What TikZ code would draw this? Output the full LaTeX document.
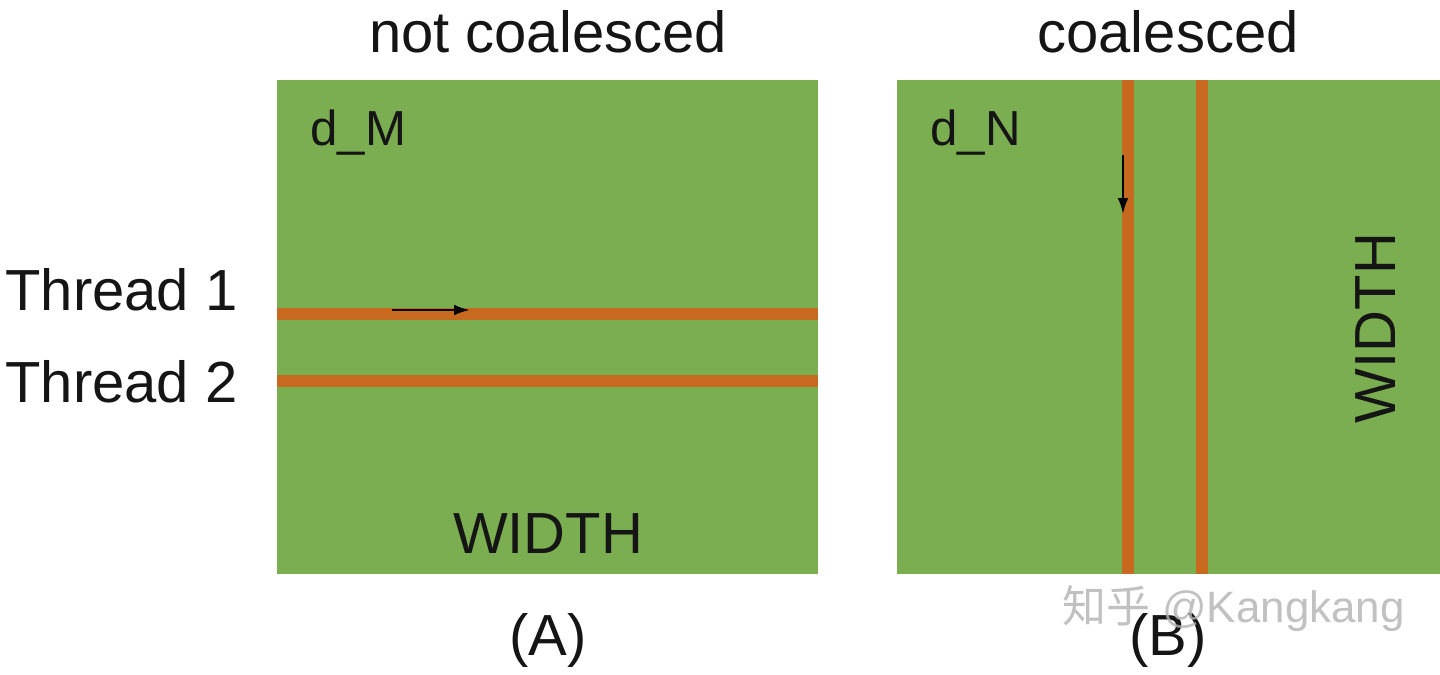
\documentclass[tikz,border=0pt]{standalone}
\usepackage{fontspec}
\usetikzlibrary{arrows.meta}
\setmainfont{Liberation Sans}
\newfontfamily\cjk{Noto Sans CJK SC}
\definecolor{grn}{HTML}{7BAE50}
\definecolor{org}{HTML}{C7691F}
\definecolor{ink}{HTML}{151515}
\begin{document}
\begin{tikzpicture}[x=0.02cm,y=-0.02cm,
  lab/.style={inner sep=0,text=ink,font=\fontsize{33}{36}\selectfont},
  sm/.style={inner sep=0,text=ink,font=\fontsize{28}{30}\selectfont},
  bar/.style={org,line width=12*0.02cm},
  arr/.style={-{Latex[length=9pt,width=6pt]},line width=1.3pt}]
\useasboundingbox (0,0) rectangle (1440,674);
\fill[white] (0,0) rectangle (1440,674);
\fill[grn] (277,80) rectangle (818,574);
\fill[grn] (897,80) rectangle (1440,574);
\coordinate (a1) at (277,314); \coordinate (a2) at (818,314);
\coordinate (a3) at (277,381); \coordinate (a4) at (818,381);
\draw[bar] (a1) -- (a2); \draw[bar] (a3) -- (a4);
\coordinate (b1) at (1128,80); \coordinate (b2) at (1128,574);
\coordinate (b3) at (1202,80); \coordinate (b4) at (1202,574);
\draw[bar] (b1) -- (b2); \draw[bar] (b3) -- (b4);
\coordinate (p1) at (392,310); \coordinate (p2) at (470,310);
\draw[arr] (p1) -- (p2);
\coordinate (q1) at (1123,155); \coordinate (q2) at (1123,214);
\draw[arr] (q1) -- (q2);
\node[lab,anchor=base] (t1) at (548,52) {not coalesced};
\node[lab,anchor=base] (t2) at (1168,52) {coalesced};
\node[sm,anchor=base west] (dm) at (310,145) {d\_M};
\node[sm,anchor=base west] (dn) at (930,145) {d\_N};
\node[lab,anchor=base west] (th1) at (5,310) {Thread 1};
\node[lab,anchor=base west] (th2) at (5,402) {Thread 2};
\node[lab,anchor=base] (w1) at (548,553) {WIDTH};
\node[lab,rotate=90,anchor=base] (w2) at (1395,328) {WIDTH};
\node[lab,anchor=base] (A) at (548,655) {(A)};
\node[lab,anchor=base] (B) at (1168,655) {(B)};
\node[inner sep=0,anchor=base west,text=gray!60,opacity=0.8,font=\fontsize{25}{28}\selectfont] (wm) at (1062,622) {{\cjk 知乎} @Kangkang};
\end{tikzpicture}
\end{document}
